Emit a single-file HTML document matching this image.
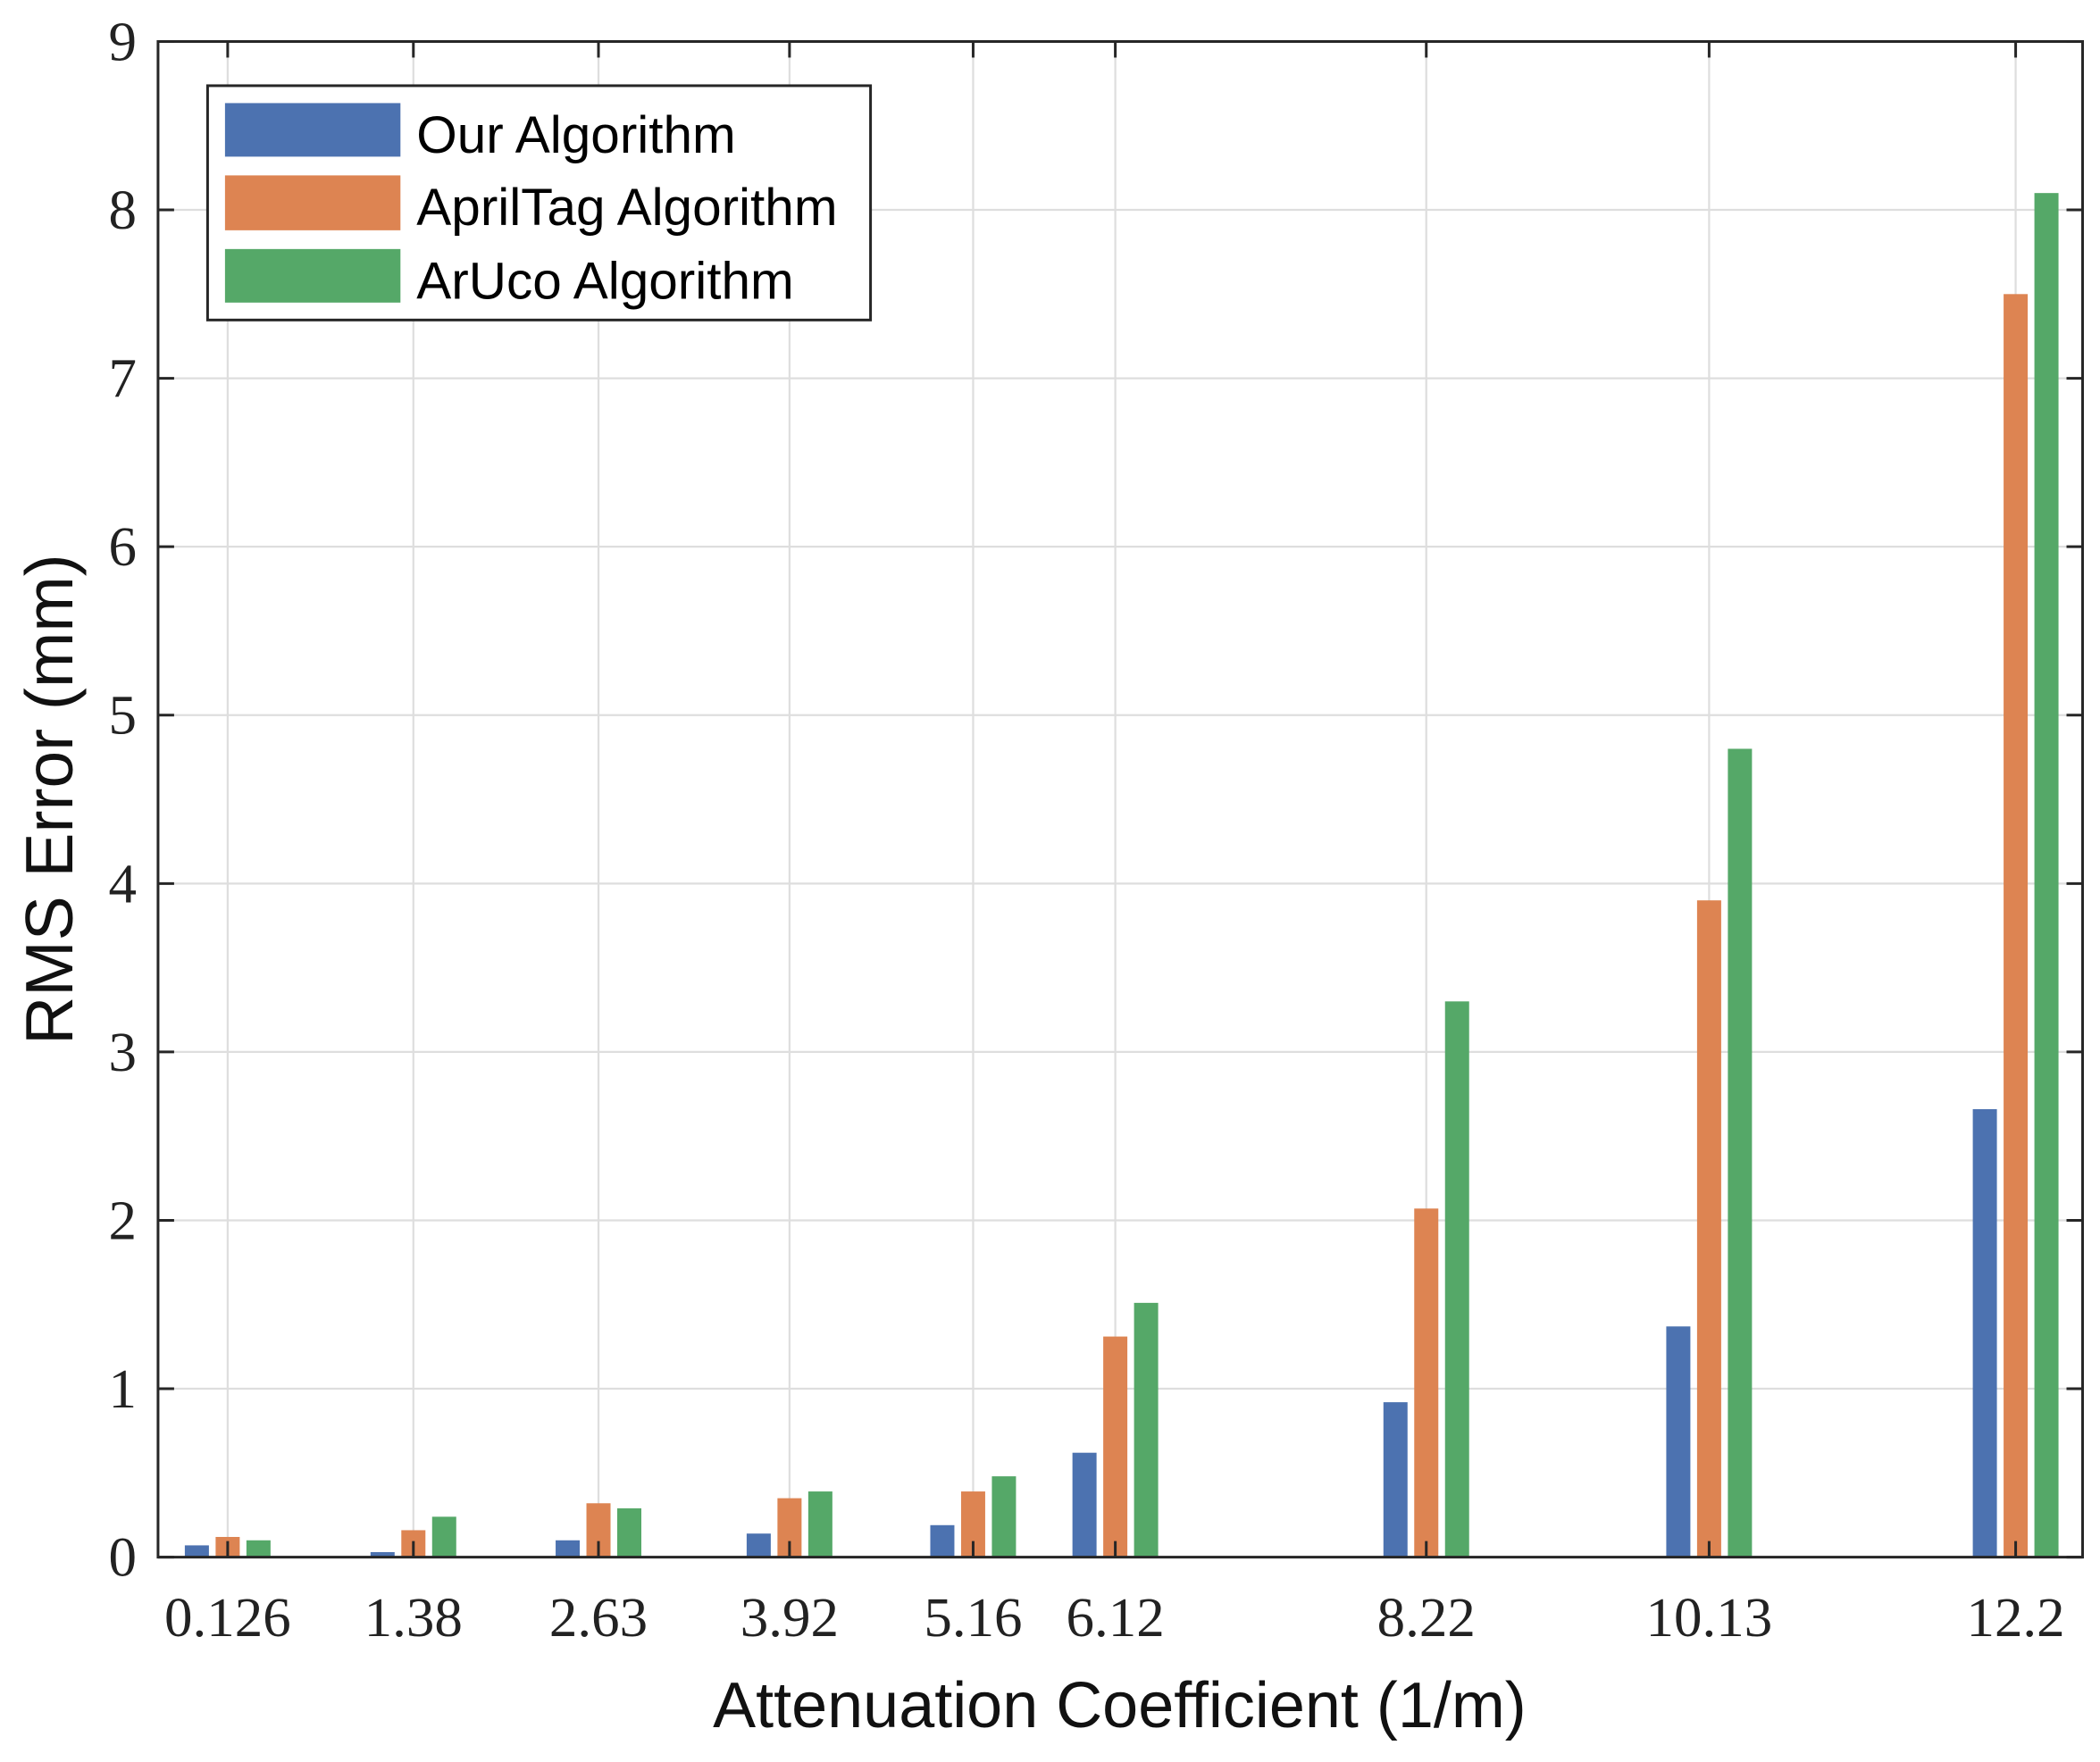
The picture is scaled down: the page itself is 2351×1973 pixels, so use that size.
<!DOCTYPE html>
<html><head><meta charset="utf-8"><style>html,body{margin:0;padding:0;background:#fff}svg{display:block}</style></head>
<body>
<svg width="2351" height="1973" viewBox="0 0 1568 1316" preserveAspectRatio="none" xmlns="http://www.w3.org/2000/svg">
<rect width="1568" height="1316" fill="#fff"/>
<g id="grid" stroke="#dedede" stroke-width="1.5"></g>
<g id="bars"></g>
<g id="axes"></g>
<rect x="118" y="31" width="1437" height="1132" fill="none" stroke="#262626" stroke-width="2"/>
<g font-family="Liberation Serif, serif" font-size="42" fill="#222" id="labels"></g>
<g font-family="Liberation Sans, sans-serif" fill="#111">
<text x="836" y="1290" font-size="48" text-anchor="middle">Attenuation Coefficient (1/m)</text>
<text transform="translate(54,597) rotate(-90)" font-size="50" text-anchor="middle">RMS Error (mm)</text>
</g>
<rect x="155" y="64" width="495" height="175" fill="#fff" stroke="#262626" stroke-width="2"/>
<rect x="168" y="77" width="131" height="40" fill="#4c72b0"/>
<rect x="168" y="131" width="131" height="41" fill="#dd8452"/>
<rect x="168" y="186" width="131" height="40" fill="#55a868"/>
<g font-family="Liberation Sans, sans-serif" font-size="39" fill="#000">
<text x="311" y="114">Our Algorithm</text>
<text x="311" y="168">AprilTag Algorithm</text>
<text x="311" y="223">ArUco Algorithm</text>
</g>
<script>
const ns="http://www.w3.org/2000/svg";
function el(p,t,a,txt){const e=document.createElementNS(ns,t);for(const k in a)e.setAttribute(k,a[k]);if(txt!==undefined)e.textContent=txt;document.getElementById(p).appendChild(e);}
const X=v=>170+(v-0.126)*110.57, Y=v=>1163-v*125.78;
const xs=[0.126,1.38,2.63,3.92,5.16,6.12,8.22,10.13,12.2];
const lab=["0.126","1.38","2.63","3.92","5.16","6.12","8.22","10.13","12.2"];
const d=[[0.07,0.12,0.1],[0.03,0.16,0.24],[0.1,0.32,0.29],[0.14,0.35,0.39],[0.19,0.39,0.48],[0.62,1.31,1.51],[0.92,2.07,3.3],[1.37,3.9,4.8],[2.66,7.5,8.1]];
const cols=["#4c72b0","#dd8452","#55a868"];
for(let i=1;i<9;i++)el("grid","line",{x1:118,x2:1555,y1:Y(i),y2:Y(i)});
xs.forEach((v,i)=>{const x=X(v);el("grid","line",{x1:x,x2:x,y1:31,y2:1163});
 d[i].forEach((h,j)=>{const cx=x+(j-1)*23;el("bars","rect",{x:cx-9,y:Y(h),width:18,height:1163-Y(h),fill:cols[j]});});
 el("axes","line",{x1:x,x2:x,y1:1163,y2:1151,stroke:"#262626","stroke-width":2});
 el("axes","line",{x1:x,x2:x,y1:31,y2:43,stroke:"#262626","stroke-width":2});
 el("labels","text",{x:x,y:1222,"text-anchor":"middle"},lab[i]);});
for(let i=0;i<=9;i++){const y=Y(i);
 el("axes","line",{x1:118,x2:130,y1:y,y2:y,stroke:"#262626","stroke-width":2});
 el("axes","line",{x1:1543,x2:1555,y1:y,y2:y,stroke:"#262626","stroke-width":2});
 el("labels","text",{x:102,y:y+14,"text-anchor":"end"},String(i));}
</script>
</svg>
</body></html>
